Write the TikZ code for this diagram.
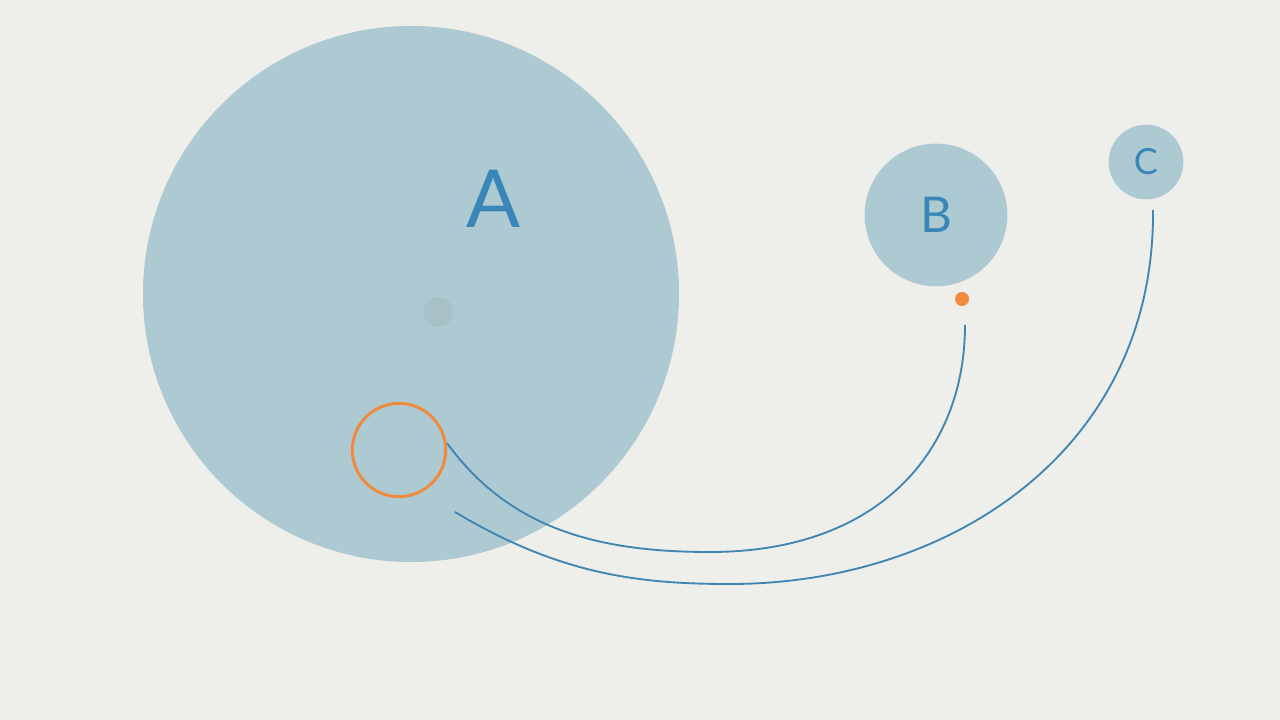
\documentclass[tikz,border=0pt]{standalone}
\usepackage{fontspec}
\setmainfont{Lato}
\begin{document}
\begin{tikzpicture}[x=0.75pt,y=-0.75pt,
  bubble/.style={circle,fill=bubblefill,draw=none,inner sep=0pt,text=lettercol},
  link/.style={draw=linkcol,line width=1.4pt}]
\definecolor{bgcol}{HTML}{EEEEEB}
\definecolor{bubblefill}{HTML}{ADC9D2}
\definecolor{lettercol}{HTML}{3A86B8}
\definecolor{linkcol}{HTML}{3F86B2}
\definecolor{orangecol}{HTML}{F08A3C}
\fill[bgcol] (0,0) rectangle (1280,720);
\useasboundingbox (0,0) rectangle (1280,720);
\node[bubble,minimum size=402pt] (A) at (411,294) {};
\fill[gray!40!bubblefill,opacity=0.25] (438,312) circle (15);
\node[text=lettercol,font=\fontsize{60}{60}\selectfont] (Alab) at (494,199) {A};
\node[bubble,minimum size=107pt,font=\fontsize{37}{37}\selectfont] (B) at (936,215) {B};
\node[bubble,minimum size=56pt,font=\fontsize{27}{27}\selectfont] (C) at (1146,162) {C};
\node[circle,draw=orangecol,line width=2.2pt,minimum size=70pt,inner sep=0pt] (ring) at (399,450) {};
\node[circle,fill=orangecol,minimum size=10.5pt,inner sep=0pt] (dot) at (962,299) {};
\coordinate (s1) at (447,443);
\coordinate (m1) at (710,552);
\coordinate (e1) at (965,325);
\coordinate (s2) at (455,512);
\coordinate (m2) at (730,584);
\coordinate (e2) at (1153,210);
\draw[link] (s1) .. controls (510,530) and (600,552) .. (m1)
  .. controls (880,552) and (965,450) .. (e1);
\draw[link] (s2) .. controls (560,575) and (640,584) .. (m2)
  .. controls (950,584) and (1155,450) .. (e2);
\end{tikzpicture}
\end{document}
